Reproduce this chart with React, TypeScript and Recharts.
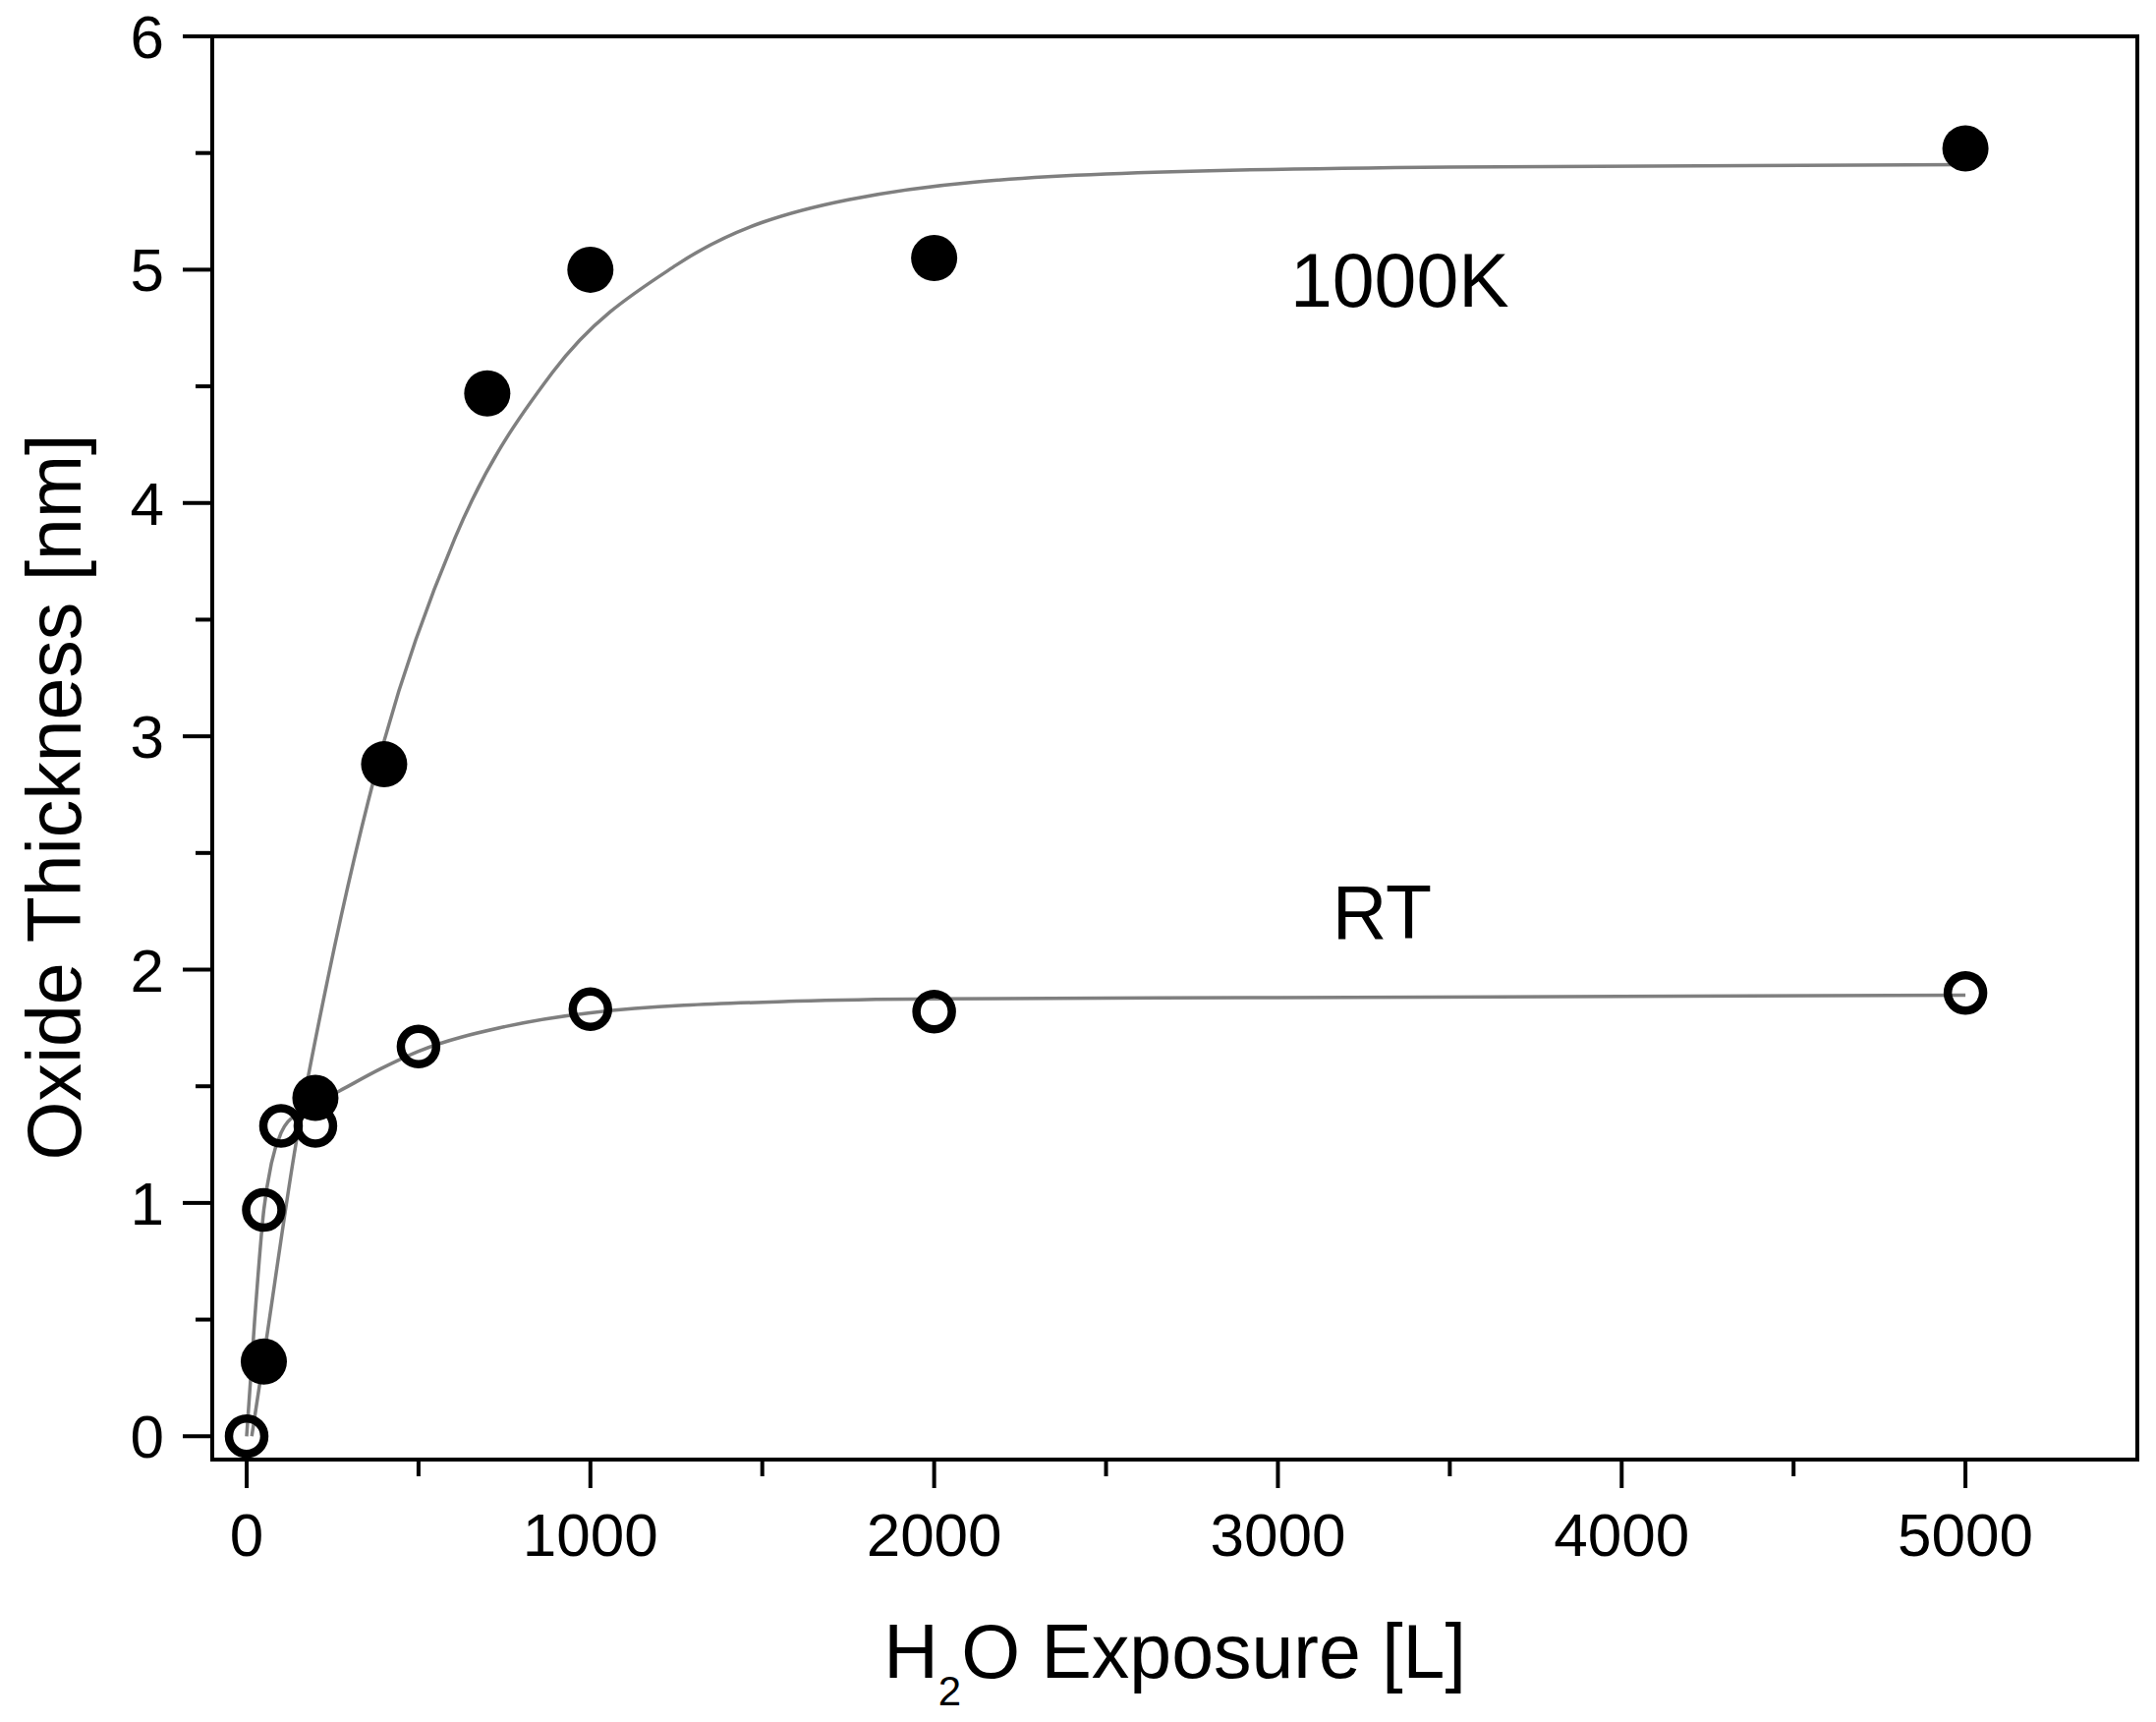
import { ComposedChart, Line, Scatter, XAxis, YAxis, ReferenceArea, ReferenceDot } from "recharts";

// measured points, 1000K (filled) and RT (open)
const hotX = [50, 200, 400, 700, 1000, 2000, 5000];
const hotY = [0.32, 1.45, 2.88, 4.47, 5.0, 5.05, 5.52];
const rtX = [0, 50, 100, 200, 500, 1000, 2000, 5000];
const rtY = [0, 0.97, 1.33, 1.33, 1.67, 1.83, 1.82, 1.9];

// fit curves
const hotFitX = [15, 50, 143, 236, 400, 606, 890, 1250, 1750, 2500, 3500, 5000];
const hotFitY = [0, 0.34, 1.25, 1.96, 2.98, 3.85, 4.56, 5.02, 5.3, 5.41, 5.44, 5.45];
const rtFitX = [0, 23, 50, 72, 100, 150, 200, 270, 390, 500, 750, 1000, 1600, 2000, 3000, 4000, 5000];
const rtFitY = [0, 0.49, 0.97, 1.17, 1.3, 1.385, 1.425, 1.48, 1.575, 1.65, 1.755, 1.815, 1.865, 1.875, 1.88, 1.885, 1.89];

const xTicks = [0, 500, 1000, 1500, 2000, 2500, 3000, 3500, 4000, 4500, 5000];
const yTicks = [0, 0.5, 1, 1.5, 2, 2.5, 3, 3.5, 4, 4.5, 5, 5.5, 6];

const zip = (xs: number[], ys: number[]) => xs.map((x, i) => ({ x, y: ys[i] }));

const hotData = zip(hotX, hotY);
const rtData = zip(rtX, rtY);
const hotFit = zip(hotFitX, hotFitY);
const rtFit = zip(rtFitX, rtFitY);

const FONT = "'Liberation Sans', Arial, sans-serif";

const XTick = ({ x, y, payload }: any) => {
  const major = payload.value % 1000 === 0;
  return (
    <g>
      <line x1={x} x2={x} y1={y} y2={y + (major ? 29 : 17)} stroke="#000" strokeWidth={4} />
      {major && (
        <text x={x} y={y + 98} textAnchor="middle" fontSize={62} fontFamily={FONT} fill="#000">
          {payload.value}
        </text>
      )}
    </g>
  );
};

const YTick = ({ x, y, payload }: any) => {
  const major = payload.value % 1 === 0;
  return (
    <g>
      <line x1={x} x2={x - (major ? 30 : 17)} y1={y} y2={y} stroke="#000" strokeWidth={4} />
      {major && (
        <text x={x - 49} y={y} dy="0.355em" textAnchor="end" fontSize={62} fontFamily={FONT} fill="#000">
          {payload.value}
        </text>
      )}
    </g>
  );
};

const XTitle = ({ viewBox }: any) => (
  <text x={viewBox.x + viewBox.width / 2} y={viewBox.y + 222} textAnchor="middle" fontSize={77} fontFamily={FONT} fill="#000">
    H
    <tspan fontSize={42} dy={28}>2</tspan>
    <tspan dy={-28}>O Exposure [L]</tspan>
  </text>
);

const YTitle = ({ viewBox }: any) => {
  const cx = viewBox.x + 82;
  const cy = 811;
  return (
    <text x={cx} y={cy} transform={`rotate(-90 ${cx} ${cy})`} textAnchor="middle" fontSize={77} fontFamily={FONT} fill="#000">
      Oxide Thickness [nm]
    </text>
  );
};

const tag = (text: string) => (p: any) => (
  <text x={p.cx} y={p.cy} dy="0.36em" textAnchor="middle" fontSize={77} fontFamily={FONT} fill="#000">
    {text}
  </text>
);

const filledDot = (p: any) => <circle cx={p.cx} cy={p.cy} r={23.5} fill="#000" />;
const openDot = (p: any) => <circle cx={p.cx} cy={p.cy} r={18} fill="none" stroke="#000" strokeWidth={8.5} />;

export default function App() {
  return (
    <div style={{ position: "absolute", left: 0, top: 0, background: "#fff" }}>
      <ComposedChart width={2194} height={1752} margin={{ top: 37, right: 19, bottom: 0, left: 0 }}>
        <XAxis
          type="number"
          dataKey="x"
          domain={[-100, 5500]}
          ticks={xTicks}
          interval={0}
          tickSize={0}
          tickMargin={0}
          tickLine={false}
          axisLine={false}
          tick={<XTick />}
          height={267}
          label={<XTitle />}
        />
        <YAxis
          type="number"
          dataKey="y"
          domain={[-0.1, 6]}
          ticks={yTicks}
          interval={0}
          tickSize={0}
          tickMargin={0}
          tickLine={false}
          axisLine={false}
          tick={<YTick />}
          width={216}
          label={<YTitle />}
        />
        <Line data={hotFit} dataKey="y" type="monotone" stroke="#7f7f7f" strokeWidth={3.5} dot={false} activeDot={false} isAnimationActive={false} />
        <Line data={rtFit} dataKey="y" type="monotone" stroke="#7f7f7f" strokeWidth={3.5} dot={false} activeDot={false} isAnimationActive={false} />
        <Scatter data={hotData} dataKey="y" shape={filledDot} isAnimationActive={false} />
        <Scatter data={rtData} dataKey="y" shape={openDot} isAnimationActive={false} />
        <ReferenceDot x={3354} y={4.96} r={0} shape={tag("1000K")} />
        <ReferenceDot x={3303} y={2.25} r={0} shape={tag("RT")} />
        <ReferenceArea x1={-100} x2={5500} y1={-0.1} y2={6} fill="none" stroke="#000" strokeWidth={4} />
      </ComposedChart>
    </div>
  );
}
